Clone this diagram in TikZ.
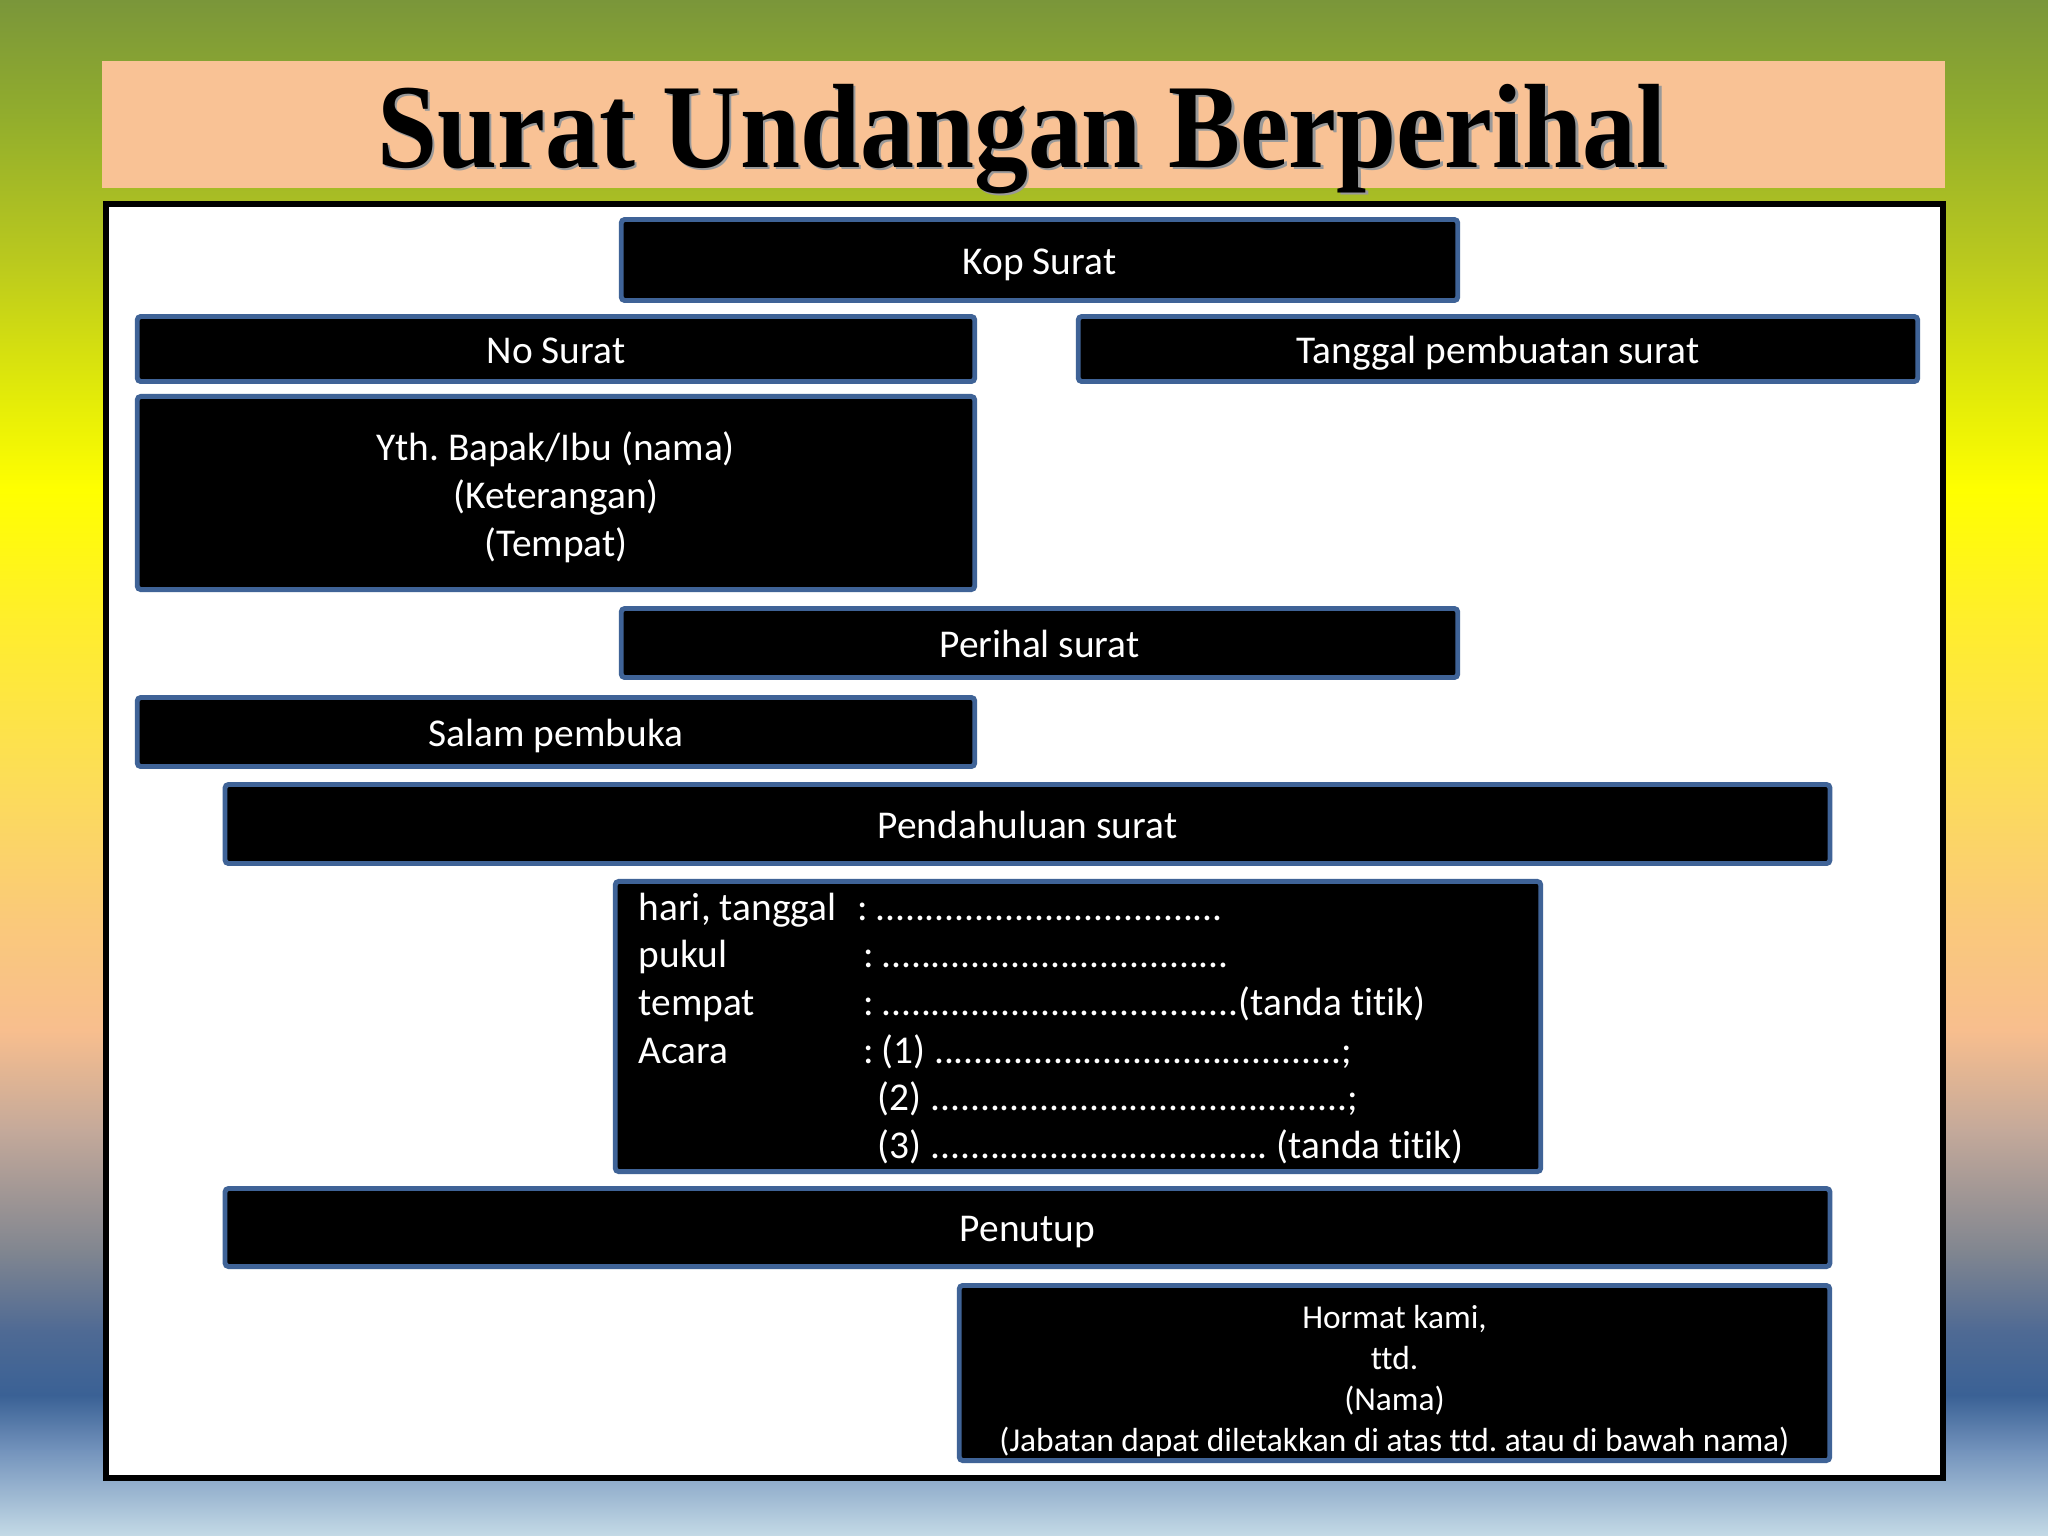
\documentclass[tikz,border=0pt]{standalone}
\usepackage{fontspec}
\setmainfont{Carlito}[Ligatures=NoCommon]
\newfontfamily\titlefont{Liberation Serif}
\frenchspacing
\definecolor{boxblue}{HTML}{3F6397}
\definecolor{bandpeach}{HTML}{F9C295}
\definecolor{gA}{HTML}{7A963A}
\definecolor{gB}{HTML}{93AE2C}
\definecolor{gC}{HTML}{BAC91E}
\definecolor{gD}{HTML}{E4EC08}
\definecolor{gE}{HTML}{FFFF00}
\definecolor{gF}{HTML}{FFEE2C}
\definecolor{gG}{HTML}{FCDD58}
\definecolor{gH}{HTML}{FAC97A}
\definecolor{gI}{HTML}{F8BE8E}
\definecolor{gJ}{HTML}{C4A99A}
\definecolor{gK}{HTML}{818690}
\definecolor{gL}{HTML}{4F6A94}
\definecolor{gM}{HTML}{3A6195}
\definecolor{gN}{HTML}{7393BC}
\definecolor{gO}{HTML}{C4DAE6}
\begin{document}
\begin{tikzpicture}[x=0.01cm,y=-0.01cm,
  blk/.style={draw=boxblue, line width=1.4pt, fill=black, rounded corners=1pt,
    text=white, align=center, inner sep=0pt, font=\fontsize{11.2}{13.6}\selectfont},
  oneline/.style={text height=0.81em, text depth=0pt},
  boxtxt/.style={inner sep=0pt, text=white, align=center},
  rowtxt/.style={anchor=base west, inner sep=0pt, text=white, font=\fontsize{11.2}{13.6}\selectfont}]
\useasboundingbox (0,0) rectangle (2048,1536);
% background gradient
\shade[top color=gA,bottom color=gB] (0,0) rectangle (2048,121);
\shade[top color=gB,bottom color=gC] (0,120) rectangle (2048,261);
\shade[top color=gC,bottom color=gD] (0,260) rectangle (2048,401);
\shade[top color=gD,bottom color=gE] (0,400) rectangle (2048,491);
\shade[top color=gE,bottom color=gF] (0,490) rectangle (2048,621);
\shade[top color=gF,bottom color=gG] (0,620) rectangle (2048,781);
\shade[top color=gG,bottom color=gH] (0,780) rectangle (2048,921);
\shade[top color=gH,bottom color=gI] (0,920) rectangle (2048,1031);
\shade[top color=gI,bottom color=gJ] (0,1030) rectangle (2048,1131);
\shade[top color=gJ,bottom color=gK] (0,1130) rectangle (2048,1251);
\shade[top color=gK,bottom color=gL] (0,1250) rectangle (2048,1331);
\shade[top color=gL,bottom color=gM] (0,1330) rectangle (2048,1396);
\shade[top color=gM,bottom color=gN] (0,1395) rectangle (2048,1451);
\shade[top color=gN,bottom color=gO] (0,1450) rectangle (2048,1536);
% title band
\fill[bandpeach] (102,61) rectangle (1945,188);
\node[anchor=base, inner sep=0pt, text=black!40] (titleshadow) at (1024.5,169.5)
  {\titlefont\bfseries\fontsize{34.1}{40}\selectfont\scalebox{0.9}[1]{Surat Undangan Berperihal}};
\node[anchor=base, inner sep=0pt] (title) at (1022,167)
  {\titlefont\bfseries\fontsize{34.1}{40}\selectfont\scalebox{0.9}[1]{Surat Undangan Berperihal}};
% white panel
\draw[line width=1.7pt, fill=white] (106,204) rectangle (1943,1478);
% boxes
\node[blk, oneline, minimum width=8.36cm, minimum height=0.81cm] (kop) at (1039.5,260) {Kop Surat};
\node[blk, oneline, minimum width=8.37cm, minimum height=0.65cm] (nosurat) at (556,349) {No Surat};
\node[blk, oneline, minimum width=8.39cm, minimum height=0.65cm] (tanggal) at (1498,349) {Tanggal pembuatan surat};
\node[blk, minimum width=8.37cm, minimum height=1.93cm] (yth) at (556,493) {};
\node[boxtxt, font=\fontsize{11.2}{13.6}\selectfont] (ythtext) at (556,497) {Yth. Bapak/Ibu (nama)\\(Keterangan)\\(Tempat)};
\node[blk, oneline, minimum width=8.36cm, minimum height=0.69cm] (perihal) at (1039.5,643) {Perihal surat};
\node[blk, oneline, minimum width=8.37cm, minimum height=0.69cm] (salam) at (556,732) {Salam pembuka};
\node[blk, oneline, minimum width=16.04cm, minimum height=0.79cm] (pendahuluan) at (1027.5,824) {Pendahuluan surat};
\node[blk, minimum width=9.25cm, minimum height=2.90cm] (hari) at (1078,1026.5) {};
\node[blk, oneline, minimum width=16.04cm, minimum height=0.78cm] (penutup) at (1027.5,1227.5) {Penutup};
\node[blk, minimum width=8.70cm, minimum height=1.75cm] (hormat) at (1394.5,1373) {};
\node[boxtxt, font=\fontsize{9.5}{11.64}\selectfont] (hormattext) at (1394.5,1381)
  {Hormat kami,\\ttd.\\(Nama)\\(Jabatan dapat diletakkan di atas ttd. atau di bawah nama)};
% rows of the schedule box
\node[rowtxt] (r1a) at (638,920) {hari, tanggal};
\node[rowtxt] (r1b) at (857,920) {:\kern0.18em...................................};
\node[rowtxt] (r2a) at (638,967.7) {pukul};
\node[rowtxt] (r2b) at (863,967.7) {:\kern0.18em...................................};
\node[rowtxt] (r3a) at (638,1015.5) {tempat};
\node[rowtxt] (r3b) at (863,1015.5) {:\kern0.18em....................................(tanda titik)};
\node[rowtxt] (r4a) at (638,1063) {Acara};
\node[rowtxt] (r4b) at (863,1063) {:\kern0.18em(1) .........................................;};
\node[rowtxt] (r5b) at (877,1110.7) {(2) ..........................................;};
\node[rowtxt] (r6b) at (877,1158) {(3) .................................. (tanda titik)};
\end{tikzpicture}
\end{document}
